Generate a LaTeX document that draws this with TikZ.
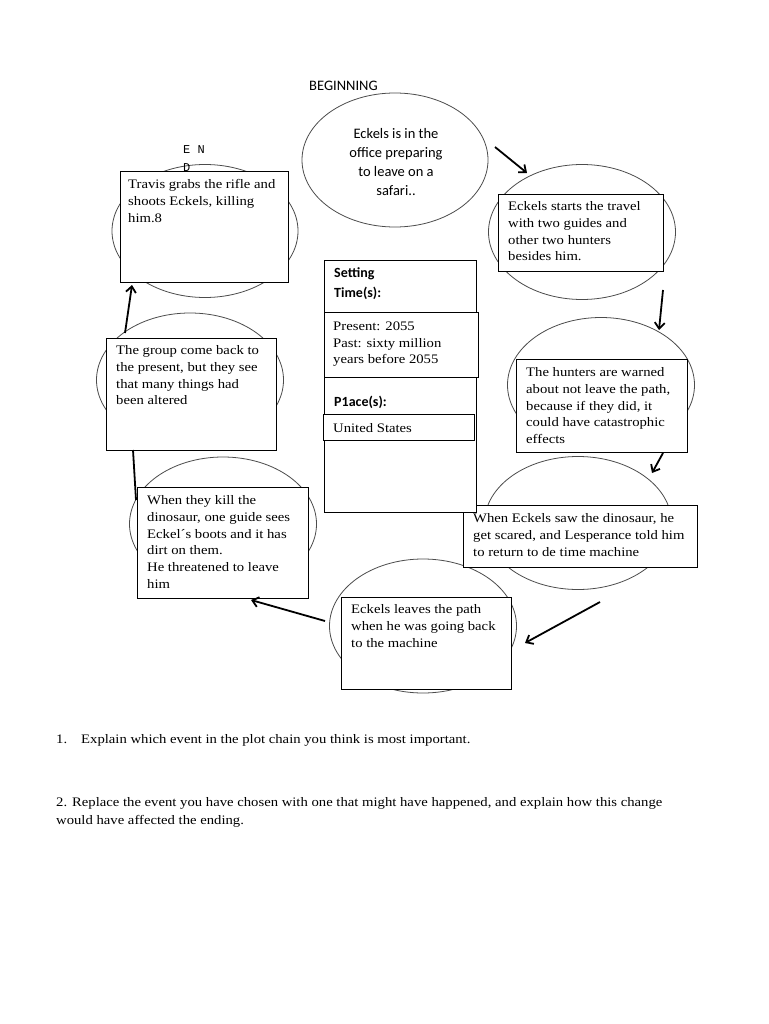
\documentclass[tikz,border=0pt]{standalone}
\usepackage{fontspec}
\setmainfont{Liberation Serif}[FakeStretch=1.13]
\newfontfamily\calfont{Carlito}
\newfontfamily\monofont{Liberation Mono}
\usetikzlibrary{shapes.geometric,arrows.meta}
\tikzset{
  oval/.style={draw=black!70, line width=0.8pt, ellipse, fill=white, inner sep=0pt},
  evbox/.style={draw=black, line width=1.1pt, fill=white, rectangle, inner sep=0pt, anchor=north west},
  evtext/.style={anchor=north west, inner sep=0pt, align=left, font=\fontsize{13}{16.7}\selectfont},
  caltext/.style={inner sep=0pt, font=\calfont\fontsize{14.5}{19}\selectfont},
  calbold/.style={inner sep=0pt, anchor=base west, font=\calfont\bfseries\fontsize{14}{16}\selectfont},
  qtext/.style={inner sep=0pt, anchor=base west, font=\fontsize{13}{17}\selectfont},
  arr/.style={line width=1.8pt, -{Straight Barb[length=6pt,width=10pt]}},
  plain/.style={line width=1.8pt},
}
\begin{document}
\begin{tikzpicture}[x=1pt,y=-1pt]
\fill[white] (0,0) rectangle (768,1024);
\useasboundingbox (0,0) rectangle (768,1024);

% ovals
\node[oval, minimum width=186pt, minimum height=134pt] (e1) at (395,160) {};
\node[oval, minimum width=187pt, minimum height=135pt] (e2) at (582,232) {};
\node[oval, minimum width=187pt, minimum height=135pt] (e3) at (601,385) {};
\node[oval, minimum width=187pt, minimum height=133pt] (e4) at (578,523) {};
\node[oval, minimum width=187pt, minimum height=134pt] (e5) at (423,626) {};
\node[oval, minimum width=187pt, minimum height=134pt] (e6) at (223,524) {};
\node[oval, minimum width=187pt, minimum height=134pt] (e7) at (190,380) {};
\node[oval, minimum width=186pt, minimum height=133pt] (e8) at (205,231) {};

% labels
\node[caltext, anchor=base west] (beg) at (309,91) {BEGINNING};
\node[inner sep=0pt, anchor=base west, font=\monofont\fontsize{12}{14}\selectfont] (endA) at (183,153.5) {E N};
\node[inner sep=0pt, anchor=base west, font=\monofont\fontsize{12}{14}\selectfont] (endB) at (183,171.5) {D};

\node[caltext, anchor=north, align=center] (e1t) at (396,128.5) {Eckels is in the\\office preparing\\to leave on a\\safari..};

% boxes
\node[evbox, minimum width=168pt, minimum height=111pt] (travis) at (120,171) {};
\node[evbox, minimum width=165pt, minimum height=77pt] (starts) at (498,194) {};
\node[evbox, minimum width=171pt, minimum height=93pt] (hunters) at (516,359) {};
\node[evbox, minimum width=234pt, minimum height=62pt] (saw) at (463,505) {};
\node[evbox, minimum width=170pt, minimum height=92pt] (leaves) at (341,597) {};
\node[evbox, minimum width=171pt, minimum height=111pt] (kill) at (137,487) {};
\node[evbox, minimum width=170pt, minimum height=112pt] (group) at (106,338) {};

\node[evtext] (travist) at (128,179.5) {Travis grabs the rifle and\\shoots Eckels, killing\\him.8};
\node[evtext] (startst) at (508,201.5) {Eckels starts the travel\\with two guides and\\other two hunters\\besides him.};
\node[evtext] (hunterst) at (526,367.5) {The hunters are warned\\about not leave the path,\\because if they did, it\\could have catastrophic\\effects};
\node[evtext] (sawt) at (473,513.5) {When Eckels saw the dinosaur, he\\get scared, and Lesperance told him\\to return to de time machine};
\node[evtext] (leavest) at (351,604.5) {Eckels leaves the path\\when he was going back\\to the machine};
\node[evtext] (killt) at (147,495.5) {When they kill the\\dinosaur, one guide sees\\Eckel´s boots and it has\\dirt on them.\\He threatened to leave\\him};
\node[evtext] (groupt) at (116,345.5) {The group come back to\\the present, but they see\\that many things had\\been altered};

% setting
\node[evbox, minimum width=152pt, minimum height=252pt] (setting) at (324,260) {};
\node[evbox, minimum width=154pt, minimum height=65pt] (present) at (324,312) {};
\node[evbox, minimum width=151pt, minimum height=26pt] (place) at (323,414) {};
\node[calbold] (settingt) at (334,277.5) {Setting};
\node[calbold] (timet) at (334,297.5) {Time(s):};
\node[evtext] (presentt) at (333,321.5) {Present: 2055\\Past: sixty million\\years before 2055};
\node[calbold] (placet) at (334,406.5) {P1ace(s):};
\node[inner sep=0pt, anchor=base west, font=\fontsize{13}{16}\selectfont] (ust) at (333,432) {United States};

% connectors
\coordinate (a1s) at (495,147); \coordinate (a1e) at (527,173);
\coordinate (a2s) at (663,290); \coordinate (a2e) at (659,330);
\coordinate (a3s) at (663,453); \coordinate (a3e) at (652,473);
\coordinate (a4s) at (600,602); \coordinate (a4e) at (525,643);
\coordinate (a5s) at (325,621); \coordinate (a5e) at (251,600);
\coordinate (a6s) at (133,450); \coordinate (a6e) at (136,500);
\coordinate (a7s) at (125,333); \coordinate (a7e) at (132,285);
\draw[arr] (a1s) -- (a1e);
\draw[arr] (a2s) -- (a2e);
\draw[arr] (a3s) -- (a3e);
\draw[arr] (a4s) -- (a4e);
\draw[arr] (a5s) -- (a5e);
\draw[plain] (a6s) -- (a6e);
\draw[arr] (a7s) -- (a7e);

% questions
\node[qtext] (q1n) at (56,743) {1.};
\node[qtext] (q1) at (81,743) {Explain which event in the plot chain you think is most important.};
\node[qtext] (q2) at (56,806) {2. Replace the event you have chosen with one that might have happened, and explain how this change};
\node[qtext] (q2b) at (56,824) {would have affected the ending.};
\end{tikzpicture}
\end{document}
